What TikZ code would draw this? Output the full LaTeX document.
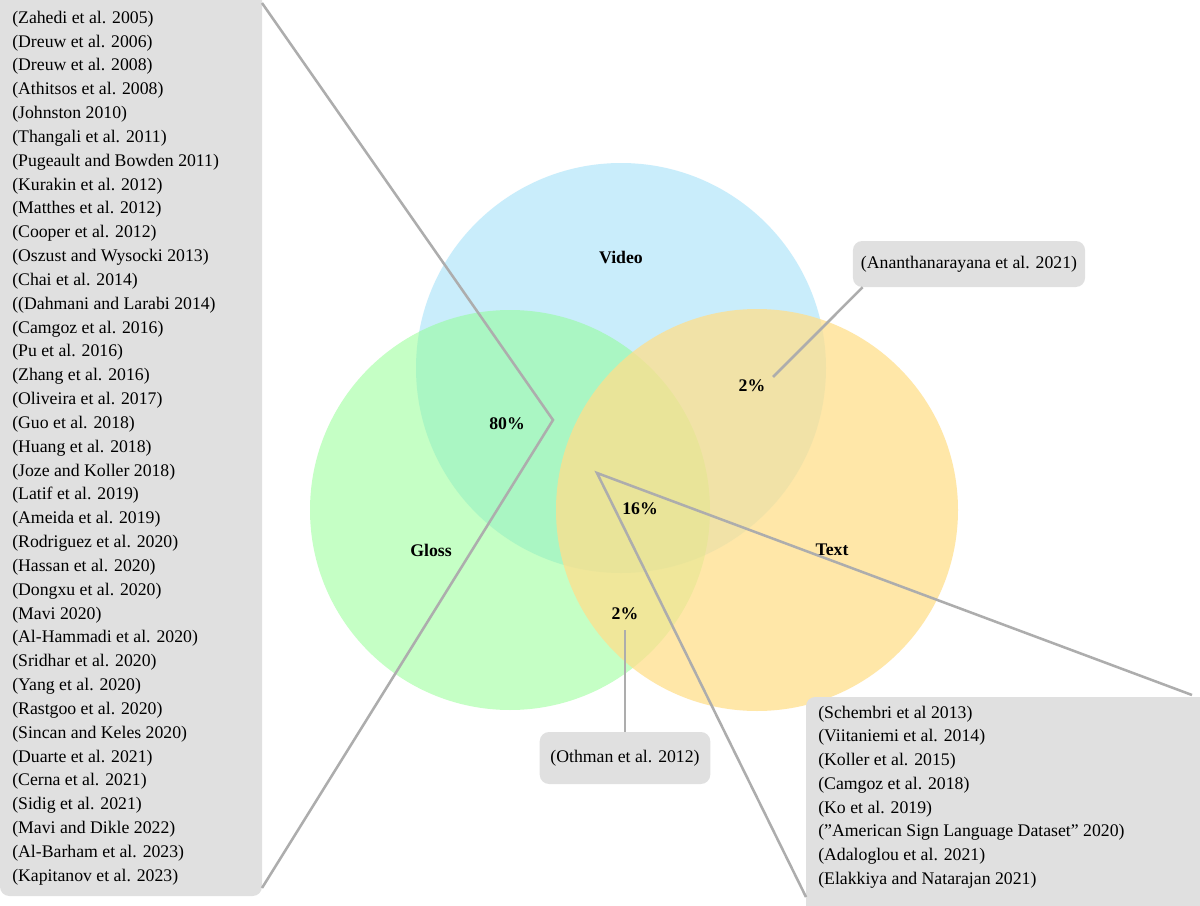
\documentclass[tikz,border=0pt]{standalone}
\usepackage{fontspec}
\setmainfont{Liberation Serif}
\begin{document}
\begin{tikzpicture}[x=0.75pt,y=-0.75pt,
  box/.style={fill=black!12,draw=none,rounded corners=7pt},
  conn/.style={draw=black!32,line width=1.9pt},
  lbl/.style={font=\fontsize{13.3}{16}\selectfont\bfseries},
  ref/.style={font=\fontsize{13.3}{16}\selectfont,anchor=west,inner sep=0pt}]
\useasboundingbox (0,0) rectangle (1200,906);
\fill[fill=white] (0,0) rectangle (1200,906);
% circles
\fill[cyan!35!white,opacity=0.6] (621,368) circle[radius=205];
\fill[green!45!white,opacity=0.5] (510,510) circle[radius=200];
\fill[orange!55!yellow!45!white,opacity=0.75] (757,510) circle[radius=201];
\node[lbl] (video) at (621,257) {Video};
\node[lbl] (gloss) at (431,550) {Gloss};
\node[lbl] (text) at (832,550) {Text};
\node[lbl] (p80) at (507,424) {80\%};
\node[lbl] (p2a) at (752,386) {2\%};
\node[lbl] (p16) at (640,509) {16\%};
\node[lbl] (p2b) at (625,614) {2\%};
\coordinate (c80) at (553,420);
\coordinate (c2a) at (773,377);
\coordinate (c16) at (597,473);
\coordinate (c2b) at (625,630);
% left box
\path[box] (0,-10) rectangle (262,896);
\coordinate (lt) at (262,3);
\coordinate (lb) at (262,888);
\foreach [count=\i from 0] \t in {(Zahedi et al. 2005),(Dreuw et al. 2006),(Dreuw et al. 2008),(Athitsos et al. 2008),(Johnston 2010),(Thangali et al. 2011),(Pugeault and Bowden 2011),(Kurakin et al. 2012),(Matthes et al. 2012),(Cooper et al. 2012),(Oszust and Wysocki 2013),(Chai et al. 2014),((Dahmani and Larabi 2014),(Camgoz et al. 2016),(Pu et al. 2016),(Zhang et al. 2016),(Oliveira et al. 2017),(Guo et al. 2018),(Huang et al. 2018),(Joze and Koller 2018),(Latif et al. 2019),(Ameida et al. 2019),(Rodriguez et al. 2020),(Hassan et al. 2020),(Dongxu et al. 2020),(Mavi 2020),(Al-Hammadi et al. 2020),(Sridhar et al. 2020),(Yang et al. 2020),(Rastgoo et al. 2020),(Sincan and Keles 2020),(Duarte et al. 2021),(Cerna et al. 2021),(Sidig et al. 2021),(Mavi and Dikle 2022),(Al-Barham et al. 2023),(Kapitanov et al. 2023)}
  \node[ref] (l\i) at (12,{19+23.83*\i}) {\t};
\draw[conn] (lt) -- (c80) -- (lb);
% Ananthanarayana
\node[box,ref,anchor=center,inner xsep=6pt,minimum height=46*0.75pt] (ana) at (969,264) {(Ananthanarayana et al. 2021)};
\draw[conn] (ana.south west) ++(10,0) coordinate (anaend) (anaend) -- (c2a);
% Othman
\node[box,ref,anchor=center,inner xsep=8pt,minimum height=52*0.75pt] (oth) at (625,758) {(Othman et al. 2012)};
\draw[conn] (oth.north) -- (c2b);
% bottom right box
\path[box] (806,697) rectangle (1210,920);
\coordinate (rt) at (1192,695);
\coordinate (rb) at (806,897);
\foreach [count=\i from 0] \t in {(Schembri et al 2013),(Viitaniemi et al. 2014),(Koller et al. 2015),(Camgoz et al. 2018),(Ko et al. 2019),("American Sign Language Dataset" 2020),(Adaloglou et al. 2021),(Elakkiya and Natarajan 2021)}
  \node[ref] (r\i) at (818,{714+23.7*\i}) {\t};
\draw[conn] (rt) -- (c16) -- (rb);
\end{tikzpicture}
\end{document}
